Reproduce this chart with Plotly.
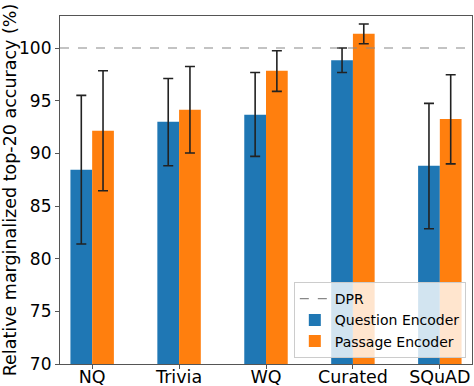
import plotly.graph_objects as go

categories = ["NQ", "Trivia", "WQ", "Curated", "SQuAD"]
question_vals = [88.44, 92.99, 93.67, 98.85, 88.82]
question_hi = [95.5, 97.11, 97.68, 100.0, 94.74]
question_lo = [81.4, 88.82, 89.71, 97.68, 82.84]
passage_vals = [92.15, 94.13, 97.84, 101.36, 93.25]
passage_hi = [97.84, 98.25, 99.74, 102.28, 97.46]
passage_lo = [86.45, 90.03, 95.88, 100.41, 89.0]
dpr_level = 100
y_ticks = [70, 75, 80, 85, 90, 95, 100]

FONT = "DejaVu Sans"
BLUE = "#1f77b4"
ORANGE = "#ff7f0e"
ERR = "#222222"

fig = go.Figure()

fig.add_trace(go.Scatter(
    x=[0, 1], y=[dpr_level, dpr_level], xaxis="x2", yaxis="y",
    mode="lines", name="DPR",
    line=dict(color="#888888", width=1.2, dash="dash"),
))

def err(vals, hi, lo):
    return dict(
        type="data", symmetric=False,
        array=[h - v for h, v in zip(hi, vals)],
        arrayminus=[v - l for v, l in zip(vals, lo)],
        color=ERR, thickness=1.6, width=5,
    )

fig.add_trace(go.Bar(
    x=categories, y=question_vals, name="Question Encoder",
    marker=dict(color=BLUE, line=dict(width=0)),
    error_y=err(question_vals, question_hi, question_lo),
))
fig.add_trace(go.Bar(
    x=categories, y=passage_vals, name="Passage Encoder",
    marker=dict(color=ORANGE, line=dict(width=0)),
    error_y=err(passage_vals, passage_hi, passage_lo),
))

fig.update_layout(
    width=474, height=386,
    margin=dict(l=60, r=2, t=16, b=22),
    plot_bgcolor="white", paper_bgcolor="white",
    barmode="group", bargap=0.5, bargroupgap=0,
    font=dict(family=FONT, color="black", size=17),
    xaxis=dict(
        range=[-0.37, 4.37], showgrid=False, showline=True, mirror=True,
        linecolor="#555555", linewidth=1.2, ticks="outside", ticklen=4,
        tickcolor="#555555", tickfont=dict(size=17.5, family=FONT),
        automargin=False, ticklabelstandoff=-7,
    ),
    xaxis2=dict(range=[0, 1], overlaying="x", visible=False, fixedrange=True),
    yaxis=dict(
        range=[70, 103.04], tickvals=y_ticks, showgrid=False, showline=True,
        mirror=True, linecolor="#555555", linewidth=1.2, ticks="outside",
        ticklen=4, tickcolor="#555555", zeroline=False,
        tickfont=dict(size=17, family=FONT), automargin=False,
        title=dict(text="Relative marginalized top-20 accuracy (%)",
                   font=dict(size=17.5, family=FONT), standoff=2),
    ),
    legend=dict(
        x=0.985, y=0.017, xanchor="right", yanchor="bottom",
        bgcolor="rgba(255,255,255,0.8)", bordercolor="#cccccc", borderwidth=1,
        font=dict(size=14, family=FONT), tracegroupgap=0,
        itemwidth=30,
    ),
    showlegend=True,
)

fig.write_html("out.html", config={"displayModeBar": False},
               post_script="document.body.style.margin='0';")
